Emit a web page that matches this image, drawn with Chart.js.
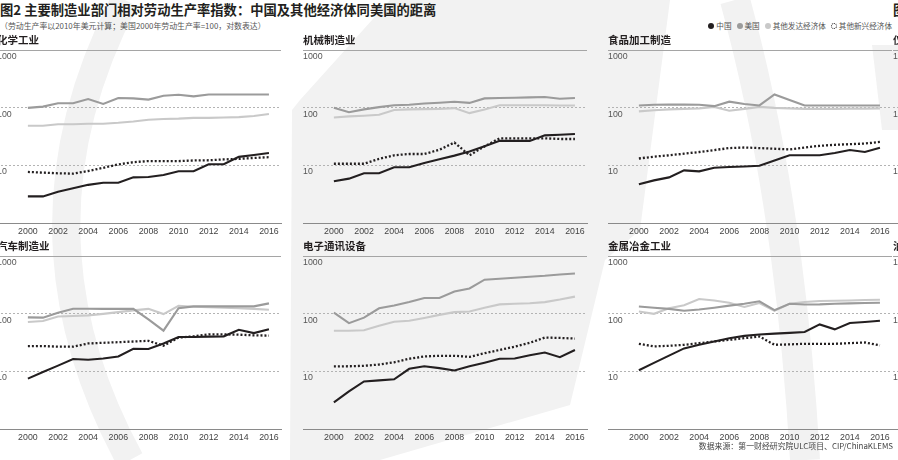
<!DOCTYPE html>
<html>
<head>
<meta charset="utf-8">
<script src="https://cdn.jsdelivr.net/npm/chart.js@4.4.1/dist/chart.umd.min.js"></script>
<style>
  body { margin: 0; width: 898px; height: 460px; overflow: hidden; background: #fff; position: relative;
         font-family: "Noto Sans CJK SC", "Liberation Sans", sans-serif; }
  #bg { position: absolute; left: 0; top: 0; z-index: 0; }
  .panel { position: absolute; width: 285px; height: 198px; z-index: 1; }
  .ptitle { position: absolute; font-weight: bold; font-size: 10.5px; line-height: 14px; color: #231f20; white-space: nowrap; z-index: 2; }
  #title { position: absolute; left: 0; top: 1px; font-weight: bold; font-size: 13.3px; line-height: 18px; color: #231f20; white-space: nowrap; z-index: 2; }
  #subtitle { position: absolute; left: 0; top: 20px; font-size: 7.9px; line-height: 11px; color: #555; white-space: nowrap; z-index: 2; }
  #legend { position: absolute; right: 6px; top: 20px; font-size: 7.6px; line-height: 12px; color: #555; display: flex; gap: 5px; z-index: 2; }
  #legend span.item { display: flex; align-items: center; gap: 2px; }
  #legend i { display: inline-block; width: 6px; height: 6px; border-radius: 50%; }
  #legend i.dot { width: 4px; height: 4px; border: 1.3px dotted #231f20; }
  #source { position: absolute; right: 5px; top: 440px; font-size: 7.9px; line-height: 12px; color: #444; z-index: 2; }
  #nexttitle { position: absolute; left: 893px; top: 1px; font-weight: bold; font-size: 13.3px; line-height: 18px; color: #231f20; z-index: 2; }
</style>
</head>
<body>
<svg id="bg" width="898" height="460">
  <path d="M125 0 Q5 230 130 460" stroke="#f2f2f2" stroke-width="28" fill="none"/>
  <polygon points="390,0 670,0 640,230 605,260 570,405 380,460 290,460 292,110 300,100" fill="#f2f2f2"/>
  <path d="M735 0 Q790 200 805 460" stroke="#f2f2f2" stroke-width="30" fill="none"/>
  <polygon points="872,45 898,45 898,130 882,130" fill="#f2f2f2"/>
</svg>

<div id="title">图2 主要制造业部门相对劳动生产率指数：中国及其他经济体同美国的距离</div>
<div id="subtitle">（劳动生产率以2010年美元计算；美国2000年劳动生产率=100，对数表达）</div>
<div id="nexttitle">图</div>
<div id="legend"></div>
<div id="source">数据来源：第一财经研究院ULC项目、CIP/ChinaKLEMS</div>

<script>
// ---- data ----
const YEARS = [2000, 2001, 2002, 2003, 2004, 2005, 2006, 2007, 2008, 2009, 2010, 2011, 2012, 2013, 2014, 2015, 2016];
const X_TICKS = [2000, 2002, 2004, 2006, 2008, 2010, 2012, 2014, 2016];
const Y_TICKS = [1, 10, 100, 1000];
const SERIES = ["中国", "美国", "其他发达经济体", "其他新兴经济体"];
const PANEL_TITLES = ["化学工业", "机械制造业", "食品加工制造", "汽车制造业", "电子通讯设备", "金属冶金工业"];
const EDGE_TITLES = ["仪", "油"];

// 化学工业
const CHEM_CN  = [2.9, 2.9, 3.5, 4.0, 4.6, 5.0, 5.0, 6.2, 6.3, 6.8, 7.9, 7.9, 10.5, 10.5, 14.1, 15.2, 16.4];
const CHEM_US  = [100, 105, 120, 120, 142, 117, 148, 146, 139, 162, 169, 158, 171, 171, 171, 171, 171];
const CHEM_DEV = [49, 49, 52, 52, 53, 53, 55, 58, 62, 64, 65, 67, 67, 68, 69, 72, 78];
const CHEM_EM  = [7.7, 7.5, 7.3, 7.2, 8.0, 9.1, 10.4, 11.4, 11.9, 11.9, 11.9, 12.2, 12.3, 12.7, 13.0, 13.5, 13.9];
// 机械制造业
const MACH_CN  = [5.3, 5.9, 7.3, 7.3, 9.3, 9.3, 11.0, 12.8, 14.8, 17.5, 21.6, 26.7, 26.7, 26.7, 33.3, 34.2, 35.1];
const MACH_US  = [100, 84, 94, 103, 111, 113, 119, 123, 128, 122, 146, 148, 150, 152, 154, 144, 148];
const MACH_DEV = [68, 71, 73, 76, 92, 94, 95, 96, 99, 81, 94, 111, 111, 111, 111, 110, 110];
const MACH_EM  = [10.7, 10.7, 10.7, 13.0, 15.0, 15.8, 15.8, 18.7, 25.0, 15.0, 21.4, 29.6, 29.6, 29.6, 29.6, 28.8, 28.8];
// 食品加工制造
const FOOD_CN  = [4.7, 5.5, 6.2, 8.2, 7.9, 9.1, 9.4, 9.6, 9.9, 12.2, 15.0, 15.0, 15.0, 16.4, 18.5, 17.1, 20.3];
const FOOD_US  = [110, 113, 114, 114, 113, 107, 128, 117, 110, 171, 137, 110, 110, 110, 110, 110, 110];
const FOOD_DEV = [87, 91, 94, 96, 98, 104, 89, 96, 104, 100, 98, 96, 96, 96, 97, 97, 98];
const FOOD_EM  = [13.2, 14.2, 15.0, 16.0, 17.1, 18.5, 20.0, 20.5, 20.0, 19.5, 19.0, 20.5, 21.9, 22.8, 23.4, 24.0, 25.6];
// 汽车制造业
const AUTO_CN  = [7.5, 9.8, 12.6, 16.4, 16.0, 16.8, 18.2, 24.8, 24.5, 30.6, 39.7, 39.7, 40.2, 40.7, 52.8, 46.4, 54.2];
const AUTO_US  = [87, 86, 105, 123, 123, 122, 122, 122, 80, 51, 125, 135, 135, 135, 135, 135, 152];
const AUTO_DEV = [72, 75, 90, 92, 94, 100, 107, 115, 122, 99, 138, 133, 131, 128, 125, 122, 118];
const AUTO_EM  = [27.6, 27.6, 26.9, 26.9, 30.6, 31.4, 32.2, 33.1, 34.0, 28.0, 38.7, 40.7, 44.1, 44.1, 43.5, 42.4, 41.9];
// 电子通讯设备
const ELEC_CN  = [2.9, 4.5, 6.7, 7.0, 7.3, 11.1, 12.3, 11.4, 10.4, 12.3, 14.2, 16.6, 16.8, 19.1, 21.3, 17.7, 23.6];
const ELEC_US  = [105, 69, 86, 125, 140, 160, 189, 189, 245, 276, 392, 407, 424, 441, 458, 483, 502];
const ELEC_DEV = [51, 51, 52, 62, 73, 76, 85, 96, 107, 110, 128, 146, 150, 153, 160, 177, 199];
const ELEC_EM  = [12.2, 12.3, 12.5, 13.2, 14.4, 16.6, 18.2, 18.7, 18.7, 17.9, 20.7, 23.6, 26.9, 31.4, 38.7, 38.2, 37.2];
// 金属冶金工业
const METAL_CN  = [10.5, 14.1, 18.8, 25.1, 29.0, 33.1, 37.8, 41.4, 43.7, 45.4, 46.7, 48.5, 65.6, 53.8, 69.2, 72.0, 75.9];
const METAL_US  = [134, 128, 122, 113, 119, 128, 139, 150, 165, 116, 150, 145, 146, 150, 152, 154, 156];
const METAL_DEV = [110, 100, 125, 141, 181, 171, 156, 132, 154, 113, 150, 161, 167, 169, 171, 174, 176];
const METAL_EM  = [30.2, 27.2, 27.9, 29.0, 31.0, 33.1, 35.4, 37.8, 40.4, 29.0, 29.5, 30.2, 30.2, 30.2, 31.0, 31.8, 28.3];

const PANEL_DATA = [
  [CHEM_CN, CHEM_US, CHEM_DEV, CHEM_EM],
  [MACH_CN, MACH_US, MACH_DEV, MACH_EM],
  [FOOD_CN, FOOD_US, FOOD_DEV, FOOD_EM],
  [AUTO_CN, AUTO_US, AUTO_DEV, AUTO_EM],
  [ELEC_CN, ELEC_US, ELEC_DEV, ELEC_EM],
  [METAL_CN, METAL_US, METAL_DEV, METAL_EM]
];

// ---- look ----
const COLORS = ["#231f20", "#9b9b9b", "#c9c9c9", "#231f20"];
const COL_LEFT = [-3, 303, 608, 893];
const ROW_TOP = [45.5, 251.5];

document.addEventListener("DOMContentLoaded", () => {
  renderLegend();
  for (let r = 0; r < 2; r++) {
    for (let c = 0; c < 4; c++) {
      const idx = r * 3 + c;
      const data = c < 3 ? PANEL_DATA[idx] : null;
      const title = c < 3 ? PANEL_TITLES[idx] : EDGE_TITLES[r];
      renderPanel(COL_LEFT[c], ROW_TOP[r], title, data);
    }
  }
});

function renderLegend() {
  const el = document.getElementById("legend");
  SERIES.forEach((name, i) => {
    const item = document.createElement("span");
    item.className = "item";
    const mark = i === 3 ? '<i class="dot"></i>' : `<i style="background:${COLORS[i]}"></i>`;
    item.innerHTML = `${mark}${name}`;
    el.appendChild(item);
  });
}

/* =========================
        one small panel
========================= */
function renderPanel(left, top, title, series) {
  const t = document.createElement("div");
  t.className = "ptitle";
  t.style.left = left + "px";
  t.style.top = (top - 13) + "px";
  t.textContent = title;
  document.body.appendChild(t);

  const wrap = document.createElement("div");
  wrap.className = "panel";
  wrap.style.left = left + "px";
  wrap.style.top = (top - 1) + "px";
  const canvas = document.createElement("canvas");
  canvas.width = 285;
  canvas.height = 198;
  wrap.appendChild(canvas);
  document.body.appendChild(wrap);

  const datasets = [];
  if (series) {
    series.forEach((vals, i) => {
      datasets.push({
        label: SERIES[i],
        data: YEARS.map((yr, k) => ({ x: yr, y: vals[k] })),
        borderColor: COLORS[i],
        borderWidth: i === 3 ? 2.3 : 2.1,
        borderDash: i === 3 ? [2, 2] : [],
        pointRadius: 0,
        tension: 0,
        fill: false
      });
    });
  }

  new Chart(canvas, {
    type: "line",
    data: { datasets },
    options: {
      responsive: false,
      animation: false,
      layout: { padding: { top: 1, right: 1, left: 0, bottom: 0 } },
      plugins: { legend: { display: false }, tooltip: { enabled: false } },
      scales: {
        x: {
          type: "linear",
          min: 1997.95,
          max: 2016.8,
          afterBuildTicks: s => { s.ticks = X_TICKS.map(v => ({ value: v })); },
          afterFit: s => { s.height = 20; },
          grid: { display: false, drawTicks: false },
          border: { display: true, color: "#8a8a8a", width: 1 },
          ticks: {
            autoSkip: false, maxRotation: 0, padding: 3, color: "#444",
            font: { family: "Liberation Sans", size: 8.8 },
            callback: v => String(v)
          }
        },
        y: {
          type: "logarithmic",
          min: 1,
          max: 1000,
          afterBuildTicks: s => { s.ticks = Y_TICKS.map(v => ({ value: v })); },
          afterFit: s => { s.width = 0; },
          grid: {
            drawTicks: false,
            color: c => {
              const v = c.tick && c.tick.value;
              if (v === 1) return "rgba(0,0,0,0)";
              return v === 1000 ? "#a5a5a5" : "#b3b3b3";
            },
            lineWidth: 1
          },
          border: {
            display: false,
            dash: c => (c.tick && (c.tick.value === 10 || c.tick.value === 100)) ? [2, 2] : []
          },
          ticks: {
            mirror: true, padding: 0, labelOffset: 6.5, color: "#555",
            font: { family: "Liberation Sans", size: 8.8 },
            callback: v => (v === 1 ? "" : String(v))
          }
        }
      }
    }
  });
}
</script>
</body>
</html>
